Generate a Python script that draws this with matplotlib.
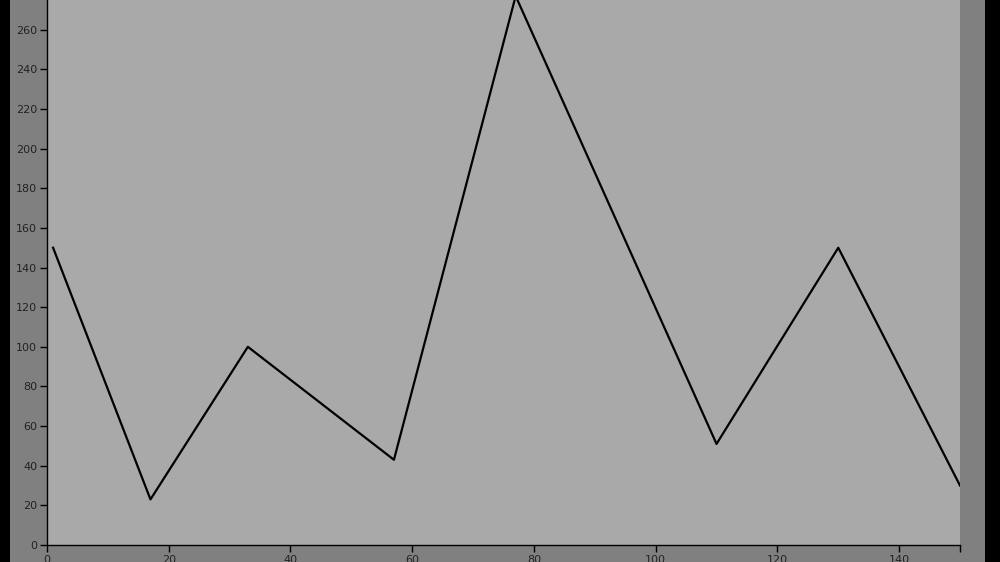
import matplotlib
matplotlib.use("Agg")
import matplotlib.pyplot as plt
from matplotlib.patches import Rectangle

# data
x_vals = [1, 17, 33, 57, 77, 110, 130, 150]
y_vals = [150, 23, 100, 43, 277, 51, 150, 30]
x_ticks = [0, 20, 40, 60, 80, 100, 120, 140, 150]
x_labels = ["0", "20", "40", "60", "80", "100", "120", "140", ""]
y_ticks = list(range(0, 261, 20))

fig = plt.figure(figsize=(10, 5.62), dpi=100, facecolor="black")
# gray page between the black side bars
fig.patches.append(Rectangle((0.010, 0), 0.975, 1, transform=fig.transFigure,
                             facecolor="#808080", edgecolor="none", zorder=-1))

ax = fig.add_axes([0.047, 17 / 562, 0.913, 545 / 562])
ax.set_facecolor("#a9a9a9")
ax.plot(x_vals, y_vals, color="black", linewidth=1.6, clip_on=True)

ax.set_xlim(0, 150)
ax.set_ylim(0, 275)
ax.set_xticks(x_ticks)
ax.set_xticklabels(x_labels)
ax.set_yticks(y_ticks)

for s in ["top", "right"]:
    ax.spines[s].set_visible(False)
for s in ["left", "bottom"]:
    ax.spines[s].set_color("black")
    ax.spines[s].set_linewidth(1.0)

ax.tick_params(axis="both", colors="black", labelcolor="#222222",
               labelsize=8, length=5, width=1, pad=2)

fig.savefig("out.png", dpi=100, facecolor=fig.get_facecolor())
